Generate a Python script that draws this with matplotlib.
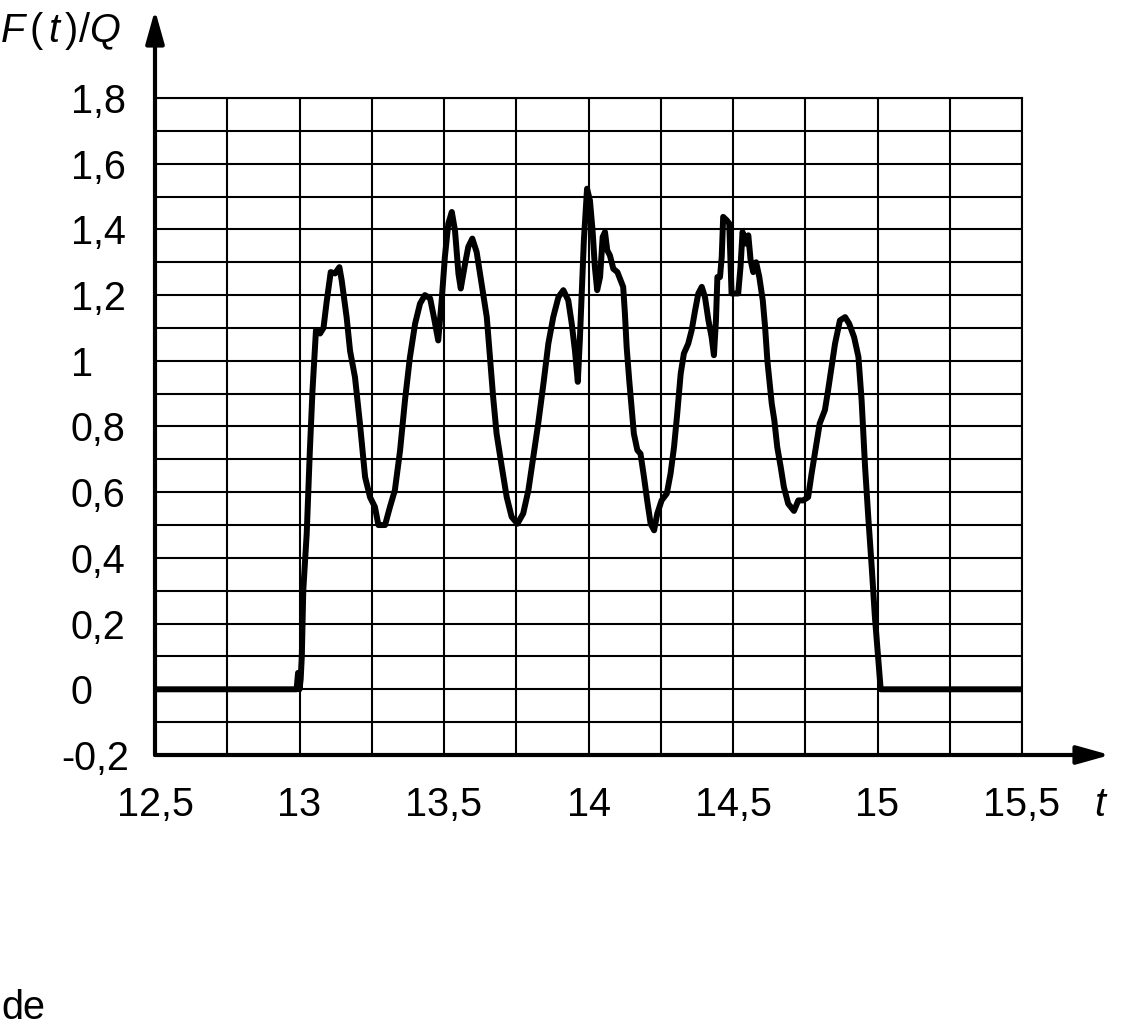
import matplotlib
matplotlib.use('Agg')
import matplotlib.pyplot as plt
from matplotlib.ticker import MultipleLocator
import matplotlib.transforms as mtransforms

plt.rcParams['font.family'] = ['Liberation Sans', 'DejaVu Sans']
plt.rcParams['mathtext.fontset'] = 'custom'
plt.rcParams['mathtext.rm'] = 'Liberation Sans'
plt.rcParams['mathtext.it'] = 'Liberation Sans:italic'

# curve, t and F(t)/Q
t = [12.5, 12.99, 12.995, 13.0, 13.004, 13.008, 13.013, 13.025, 13.036, 13.045,
     13.057, 13.071, 13.083, 13.094, 13.108, 13.123, 13.138, 13.146, 13.163, 13.175,
     13.192, 13.209, 13.227, 13.244, 13.261, 13.273, 13.296, 13.313, 13.33, 13.348,
     13.365, 13.382, 13.40, 13.417, 13.434, 13.452, 13.465, 13.48, 13.492, 13.503,
     13.515, 13.527, 13.538, 13.55, 13.558, 13.573, 13.584, 13.598, 13.613, 13.63,
     13.648, 13.659, 13.67, 13.682, 13.70, 13.717, 13.734, 13.754, 13.774, 13.792,
     13.809, 13.826, 13.844, 13.861, 13.878, 13.896, 13.913, 13.93, 13.942, 13.953,
     13.963, 13.97, 13.976, 13.984, 13.995, 14.005, 14.014, 14.022, 14.03, 14.04,
     14.049, 14.057, 14.065, 14.074, 14.086, 14.10, 14.111, 14.12, 14.126, 14.132,
     14.141, 14.149, 14.157, 14.169, 14.18, 14.192, 14.203, 14.215, 14.227, 14.238,
     14.253, 14.271, 14.284, 14.296, 14.307, 14.319, 14.33, 14.345, 14.357, 14.369,
     14.38, 14.392, 14.403, 14.415, 14.426, 14.434, 14.441, 14.446, 14.455, 14.461,
     14.466, 14.478, 14.487, 14.495, 14.501, 14.518, 14.526, 14.533, 14.544, 14.553,
     14.561, 14.57, 14.58, 14.591, 14.603, 14.611, 14.619, 14.628, 14.634, 14.643,
     14.653, 14.665, 14.676, 14.691, 14.711, 14.726, 14.743, 14.76, 14.772, 14.787,
     14.80, 14.818, 14.829, 14.841, 14.853, 14.87, 14.888, 14.902, 14.919, 14.934,
     14.945, 14.957, 14.968, 14.98, 14.991, 15.003, 15.011, 15.5]
F = [0.0, 0.0, 0.05, 0.0, 0.03, 0.1, 0.30, 0.475, 0.73, 0.91,
     1.093, 1.083, 1.10, 1.18, 1.27, 1.266, 1.285, 1.245, 1.133, 1.03,
     0.95, 0.81, 0.646, 0.585, 0.555, 0.50, 0.50, 0.555, 0.606, 0.727,
     0.88, 1.01, 1.113, 1.174, 1.20, 1.19, 1.133, 1.062, 1.184, 1.316,
     1.418, 1.453, 1.397, 1.265, 1.22, 1.296, 1.347, 1.372, 1.331, 1.235,
     1.133, 1.012, 0.89, 0.778, 0.677, 0.585, 0.525, 0.504, 0.535, 0.606,
     0.707, 0.809, 0.93, 1.052, 1.133, 1.194, 1.215, 1.184, 1.113, 1.032,
     0.936, 1.062, 1.194, 1.367, 1.524, 1.488, 1.397, 1.286, 1.215, 1.255,
     1.377, 1.392, 1.336, 1.321, 1.28, 1.27, 1.245, 1.225, 1.144, 1.042,
     0.94, 0.859, 0.778, 0.728, 0.717, 0.646, 0.575, 0.504, 0.484, 0.535,
     0.575, 0.596, 0.657, 0.738, 0.839, 0.961, 1.022, 1.052, 1.093, 1.154,
     1.205, 1.225, 1.194, 1.123, 1.072, 1.017, 1.123, 1.255, 1.255, 1.316,
     1.438, 1.428, 1.418, 1.205, 1.205, 1.205, 1.286, 1.392, 1.357, 1.382,
     1.306, 1.27, 1.30, 1.255, 1.184, 1.103, 1.0, 0.92, 0.87, 0.819,
     0.738, 0.677, 0.616, 0.565, 0.543, 0.575, 0.575, 0.585, 0.657, 0.738,
     0.809, 0.85, 0.91, 0.981, 1.052, 1.123, 1.133, 1.113, 1.072, 1.012,
     0.88, 0.677, 0.525, 0.372, 0.22, 0.088, 0.0, 0.0]

x_ticks = [12.5, 13, 13.5, 14, 14.5, 15, 15.5]
x_labels = ['12,5', '13', '13,5', '14', '14,5', '15', '15,5']
y_ticks = [-0.2, 0, 0.2, 0.4, 0.6, 0.8, 1, 1.2, 1.4, 1.6, 1.8]
y_labels = ['-0,2', '0', '0,2', '0,4', '0,6', '0,8', '1', '1,2', '1,4', '1,6', '1,8']

W, H = 1129, 1029
fig = plt.figure(figsize=(W / 100, H / 100), dpi=100)
x0, x1, y0, y1 = 155, 1022, 98, 755
ax = fig.add_axes([x0 / W, 1 - y1 / H, (x1 - x0) / W, (y1 - y0) / H])
ax.set_xlim(12.5, 15.5)
ax.set_ylim(-0.2, 1.8)

ax.xaxis.set_minor_locator(MultipleLocator(0.25))
ax.yaxis.set_minor_locator(MultipleLocator(0.1))
ax.set_xticks(x_ticks)
ax.set_yticks(y_ticks)
ax.set_xticklabels([])
ax.set_yticklabels([])
ax.tick_params(which='both', length=0)
ax.grid(which='both', color='black', lw=1.5)
ax.set_axisbelow(True)

for s in ['top', 'right']:
    ax.spines[s].set_linewidth(1.5)
for s in ['left', 'bottom']:
    ax.spines[s].set_visible(False)

ax.plot(t, F, color='black', lw=4.3, solid_capstyle='round', solid_joinstyle='round',
        zorder=3)

# axes with arrows
aw = (x1 - x0)
ah = (y1 - y0)
arrow = dict(arrowstyle='-|>,head_length=1.0,head_width=0.28', lw=3, color='black',
             mutation_scale=20, shrinkA=0, shrinkB=0)
ax.annotate('', xy=(0, (y1 - 10) / ah), xytext=(0, 0), xycoords='axes fraction',
            arrowprops=arrow, annotation_clip=False)
ax.annotate('', xy=((1110 - x0) / aw, 0), xytext=(0, 0), xycoords='axes fraction',
            arrowprops=arrow, annotation_clip=False)

# tick labels
fs = 28.5
ytr = mtransforms.blended_transform_factory(ax.transAxes, ax.transData)
for v, s in zip(y_ticks, y_labels):
    if s.startswith('-'):
        ax.text((129 - x0) / aw, v, s, transform=ytr, ha='right',
                va='center_baseline', fontsize=fs)
    else:
        ax.text((71 - x0) / aw, v, s, transform=ytr, ha='left',
                va='center_baseline', fontsize=fs)
xtr = mtransforms.blended_transform_factory(ax.transData, ax.transAxes)
for v, s in zip(x_ticks, x_labels):
    ax.text(v, (y1 - 801) / ah, s, transform=xtr, ha='center',
            va='center_baseline', fontsize=fs)

ax.text((1100 - x0) / aw, (y1 - 801) / ah, 't', transform=ax.transAxes, ha='center',
        va='center_baseline', fontsize=fs, fontstyle='italic')
fig.text(121 / W, 1 - 31 / H, r'$F\,(\,t\,)/Q$', ha='right', va='center', fontsize=fs)
fig.text(1 / W, 1 - 1019 / H, 'de', ha='left', va='baseline', fontsize=fs)

fig.savefig('out.png', dpi=100)
